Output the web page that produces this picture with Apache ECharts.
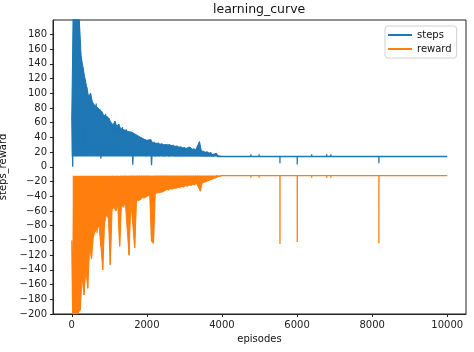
<!DOCTYPE html>
<html>
<head>
  <meta charset="UTF-8">
  <title>learning_curve</title>
  <script src="https://cdn.jsdelivr.net/npm/echarts@6/dist/echarts.min.js"></script>
  <style>
    html, body, #main {
      margin: 0;
      padding: 0;
      width: 474px;
      height: 352px;
      background: #fff;
    }
  </style>
</head>
<body>
  <div id="main"></div>
  <script>
    // noisy part: one high and one low reading every 50 episodes (0..3950)
    const stepsHi = [70, 250, 300, 220, 200, 150, 135, 120, 108, 95,
      100, 88, 84, 86, 80, 78, 75, 70, 72, 68,
      66, 60, 57, 62, 55, 58, 52, 54, 50, 51,
      48, 46, 47, 45, 44, 42, 41, 40, 38, 37,
      36, 35, 37, 33, 34, 32, 33, 31, 32, 30,
      31, 30, 31, 29, 30, 28, 29, 27, 28, 26,
      27, 25, 26, 27, 24, 25, 23, 24, 34, 22,
      21, 20, 21, 19, 20, 17, 16, 18, 15, 14];
    const stepsLo = [0, 40, 28, 45, 15, 22, 30, 20, 25, 18,
      22, 16, 20, 18, 15, 11, 18, 16, 20, 15,
      18, 16, 20, 15, 18, 16, 19, 15, 18, 15,
      17, 15, 3, 16, 15, 17, 15, 16, 15, 14,
      16, 15, 2, 15, 14, 15, 14, 15, 14, 14,
      15, 14, 14, 15, 14, 14, 14, 14, 14, 14,
      14, 14, 14, 14, 14, 14, 14, 14, 14, 14,
      14, 14, 14, 14, 14, 14, 14, 14, 14, 14];
    const rewardHi = [-100, -50, -48, -25, -30, -20, -22, -19, -21, -18,
      -20, -16, -18, -15, -16, -14, -15, -13, -14, -13,
      -14, -13, -12, -13, -12, -13, -12, -12, -12, -12,
      -12, -12, -12, -12, -12, -12, -12, -12, -12, -12,
      -12, -12, -12, -12, -12, -12, -12, -12, -12, -12,
      -12, -12, -12, -12, -12, -12, -12, -12, -12, -12,
      -12, -12, -12, -12, -12, -12, -12, -12, -12, -12,
      -12, -12, -12, -12, -12, -12, -12, -12, -12, -12];
    const rewardLo = [-200, -200, -200, -200, -195, -150, -174, -140, -165, -110,
      -125, -95, -88, -90, -80, -108, -140, -75, -65, -70,
      -133, -58, -55, -60, -52, -108, -50, -55, -48, -50,
      -120, -47, -45, -110, -46, -44, -45, -42, -43, -41,
      -40, -38, -101, -104, -36, -34, -35, -33, -34, -32,
      -31, -32, -30, -31, -29, -30, -28, -29, -27, -28,
      -26, -27, -25, -26, -24, -25, -23, -24, -33, -22,
      -21, -20, -19, -18, -17, -16, -15, -14, -13, -12];

    // converged part: flat level with a few isolated spikes
    const stepsFlat = 14;
    const rewardFlat = -12;
    const spikeEpisodes = [4770, 4990, 5545, 6006, 6390, 6790, 6900, 7695, 8180];
    const stepsSpike = [17, 17, 5, 3, 17, 17, 17, 16, 5];
    const rewardSpike = [-15, -15, -105, -102, -15, -15, -15, -14, -104];

    const lastEpisode = 9999;
    const xTicks = [0, 2000, 4000, 6000, 8000, 10000];
    const yTicks = [-200, -180, -160, -140, -120, -100, -80, -60, -40, -20,
      0, 20, 40, 60, 80, 100, 120, 140, 160, 180];

    // zigzag through the high and low readings, then the flat tail with spikes
    function buildSeries(hi, lo, flat, spikes) {
      const out = [];
      for (let i = 0; i < hi.length; i++) {
        out.push([i * 50, hi[i]]);
        out.push([i * 50 + 25, lo[i]]);
      }
      out.push([4000, flat]);
      spikeEpisodes.forEach((e, k) => {
        out.push([e - 1, flat]);
        out.push([e, spikes[k]]);
        out.push([e + 1, flat]);
      });
      out.push([lastEpisode, flat]);
      return out;
    }

    // outer edge of the dense band, used to fill it solid
    function buildEdge(edge, offset, flat) {
      const out = edge.map((v, i) => [i * 50 + offset, v]);
      out.push([4000, flat]);
      return out;
    }

    // matplotlib style minus sign
    const fmt = v => String(v).replace('-', '\u2212');

    const chart = echarts.init(document.getElementById('main'), null, { renderer: 'canvas' });
    const font = 'DejaVu Sans';
    const blue = '#1f77b4';
    const orange = '#ff7f0e';

    chart.setOption({
      animation: false,
      backgroundColor: '#fff',
      textStyle: { fontFamily: font },
      title: {
        text: 'learning_curve',
        left: 213,
        top: 3,
        padding: 0,
        textStyle: { fontFamily: font, fontSize: 12.5, fontWeight: 'normal', color: '#111' }
      },
      legend: {
        orient: 'vertical',
        left: 385,
        top: 26,
        padding: [4, 5, 4, 3],
        itemGap: 4,
        itemWidth: 24,
        itemHeight: 2,
        icon: 'rect',
        borderColor: '#d0d0d0',
        borderWidth: 1,
        borderRadius: 3,
        backgroundColor: 'rgba(255,255,255,0.85)',
        textStyle: { fontFamily: font, fontSize: 10, color: '#111' },
        data: ['steps', 'reward']
      },
      grid: {
        left: 53,
        top: 20,
        right: 8,
        bottom: 38,
        containLabel: false,
        outerBoundsMode: 'none',
        show: true,
        borderColor: '#222',
        borderWidth: 1
      },
      xAxis: {
        type: 'value',
        min: -500,
        max: 10500,
        name: 'episodes',
        nameLocation: 'middle',
        nameGap: 20,
        nameTextStyle: { fontFamily: font, fontSize: 10, color: '#111' },
        axisLine: { show: true, onZero: false, lineStyle: { color: '#222' } },
        axisTick: { show: true, length: 3, customValues: xTicks, lineStyle: { color: '#222' } },
        axisLabel: { customValues: xTicks, formatter: fmt, margin: 6, fontFamily: font, fontSize: 10, color: '#222' },
        splitLine: { show: false }
      },
      yAxis: {
        type: 'value',
        min: -200,
        max: 199.5,
        name: 'steps_reward',
        nameLocation: 'middle',
        nameGap: 38,
        nameTextStyle: { fontFamily: font, fontSize: 10, color: '#111' },
        axisLine: { show: true, onZero: false, lineStyle: { color: '#222' } },
        axisTick: { show: true, length: 3, customValues: yTicks, lineStyle: { color: '#222' } },
        axisLabel: { customValues: yTicks, formatter: fmt, margin: 6, fontFamily: font, fontSize: 10, color: '#222' },
        splitLine: { show: false }
      },
      series: [
        {
          name: 'steps',
          type: 'line',
          showSymbol: false,
          clip: true,
          silent: true,
          color: blue,
          lineStyle: { width: 1, color: blue },
          areaStyle: { origin: stepsFlat, color: blue, opacity: 1 },
          data: buildEdge(stepsHi, 0, stepsFlat)
        },
        {
          name: 'steps',
          type: 'line',
          showSymbol: false,
          clip: true,
          color: blue,
          lineStyle: { width: 1.3, color: blue },
          data: buildSeries(stepsHi, stepsLo, stepsFlat, stepsSpike)
        },
        {
          name: 'reward',
          type: 'line',
          showSymbol: false,
          clip: true,
          silent: true,
          color: orange,
          lineStyle: { width: 1, color: orange },
          areaStyle: { origin: rewardFlat, color: orange, opacity: 1 },
          data: buildEdge(rewardLo, 25, rewardFlat)
        },
        {
          name: 'reward',
          type: 'line',
          showSymbol: false,
          clip: true,
          color: orange,
          lineStyle: { width: 1.3, color: orange },
          data: buildSeries(rewardHi, rewardLo, rewardFlat, rewardSpike)
        }
      ]
    });
  </script>
</body>
</html>
